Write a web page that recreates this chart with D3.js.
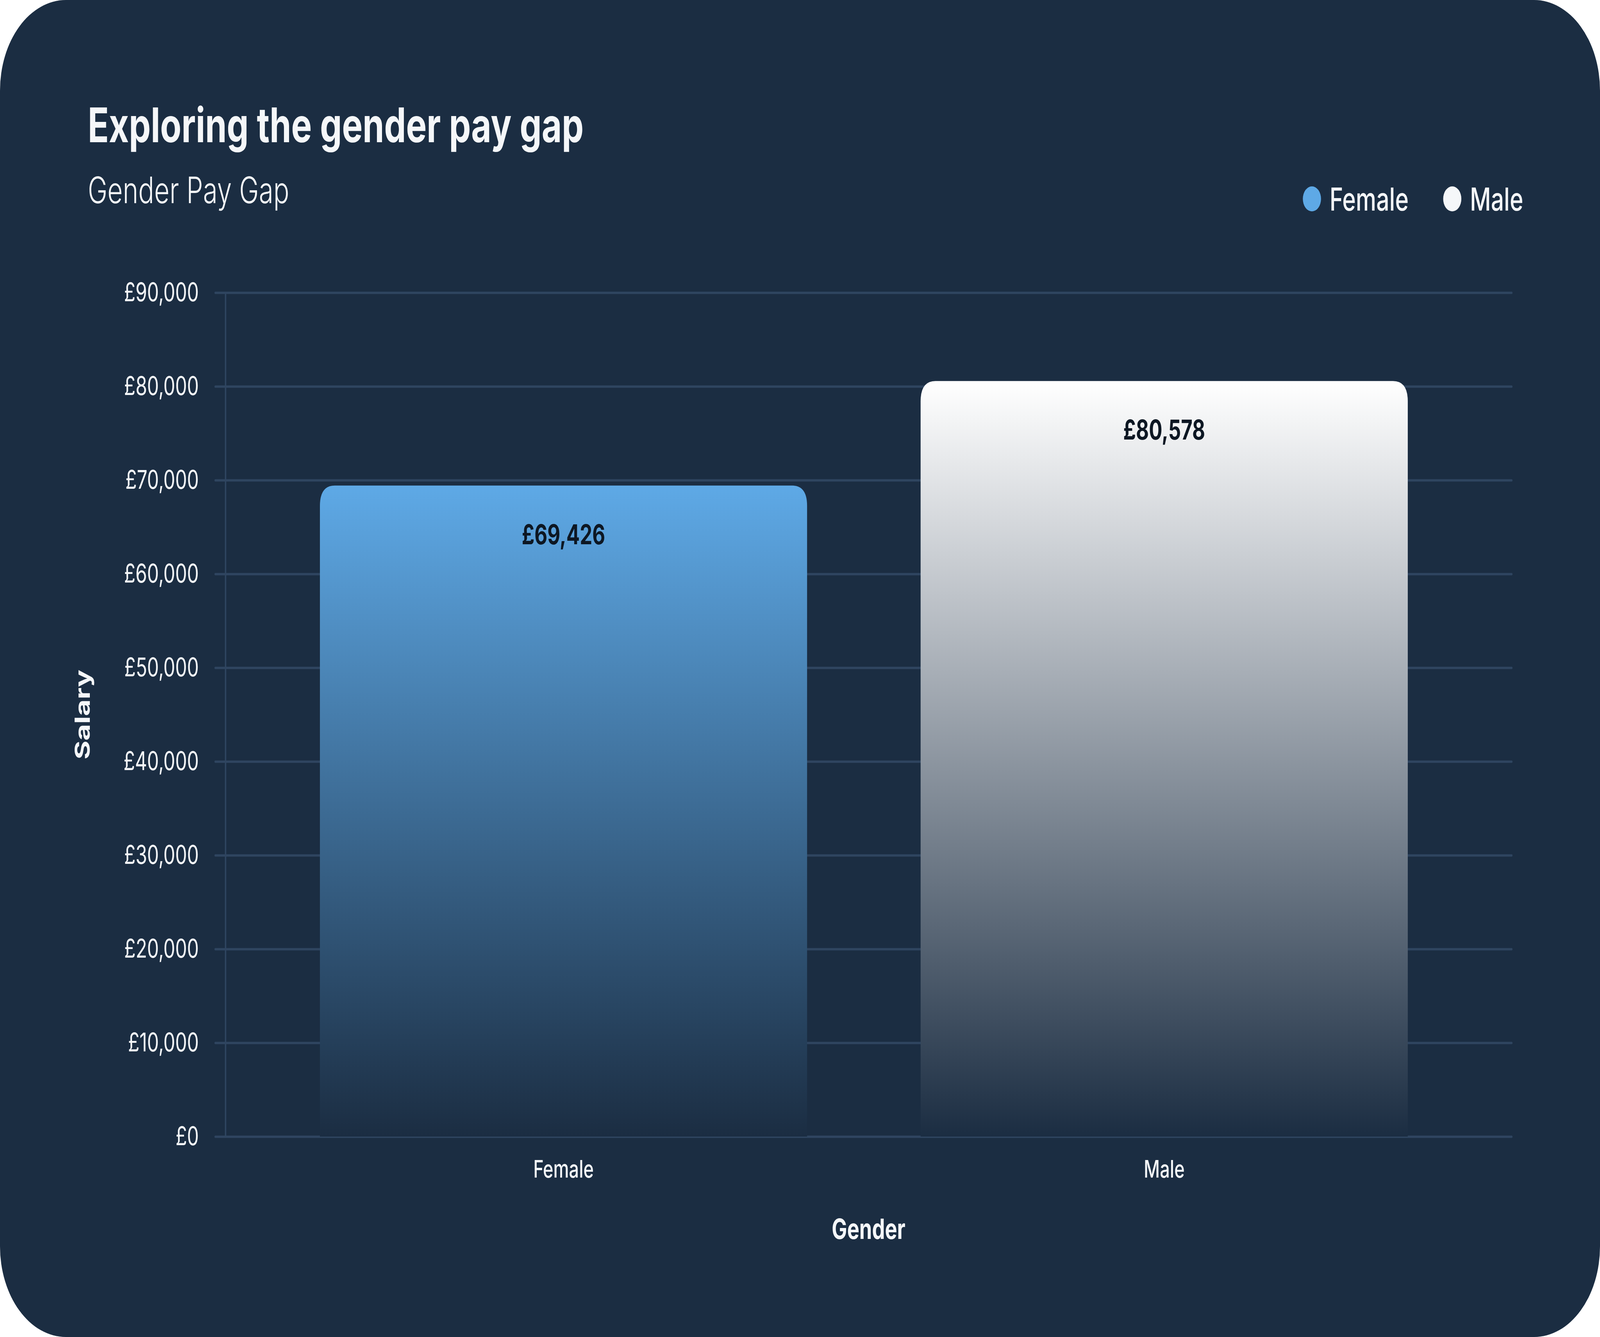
<!DOCTYPE html>
<html>
<head>
<meta charset="utf-8">
<script src="https://cdn.jsdelivr.net/npm/d3@7"></script>
<style>
  html, body { margin: 0; padding: 0; background: #ffffff; overflow: hidden; }
  #chart svg { display: block; width: 100vw; height: 100vh; }
  svg text { font-family: Inter, Lato, sans-serif; }
</style>
</head>
<body>
<div id="chart"></div>
<script>
const categories = ['Female', 'Male'];
const salaries = [69426, 80578];
const barColors = ['#5ea9e6', '#ffffff'];
const yTicks = [0, 10000, 20000, 30000, 40000, 50000, 60000, 70000, 80000, 90000];

const width = 5632;
const height = 3422;
const margin = {top: 749, right: 311, bottom: 513, left: 794};
const bg = '#1b2d42';
const gridColor = '#2f4560';
const textColor = '#f5f7f9';

// window may be narrower than the chart, so the chart is fitted to it
let svg = d3.select('#chart')
    .append('svg')
    .attr('viewBox', `0 0 ${width} ${height}`)
    .attr('preserveAspectRatio', 'none');

svg.append('rect')
    .attr('width', width)
    .attr('height', height)
    .attr('rx', 232)
    .attr('ry', 232)
    .style('fill', bg);

let defs = svg.append('defs');
categories.forEach(function(c, i) {
    let grad = defs.append('linearGradient')
        .attr('id', 'grad' + i)
        .attr('x1', 0).attr('y1', 0)
        .attr('x2', 0).attr('y2', 1);
    grad.append('stop').attr('offset', '0%').attr('stop-color', barColors[i]);
    grad.append('stop').attr('offset', '100%').attr('stop-color', bg);
});

// titles
svg.append('text')
    .attr('x', 309).attr('y', 364)
    .style('font-size', '122px')
    .style('font-weight', 700)
    .style('fill', textColor)
    .text('Exploring the gender pay gap');

svg.append('text')
    .attr('x', 309).attr('y', 520)
    .style('font-size', '93px')
    .style('font-weight', 300)
    .style('fill', textColor)
    .text('Gender Pay Gap');

let x = d3.scaleBand()
    .domain(categories)
    .range([margin.left, width - margin.right])
    .paddingInner(0.189)
    .paddingOuter(0.165)
    .align(0.476);

let y = d3.scaleLinear()
    .domain([0, 90000])
    .range([height - margin.bottom, margin.top]);

// grid + y axis
let yAxis = svg.append('g')
    .attr('transform', `translate(${margin.left}, 0)`)
    .call(d3.axisLeft(y)
        .tickValues(yTicks)
        .tickSize(-(width - margin.left - margin.right))
        .tickPadding(94)
        .tickFormat(d => '£' + d3.format(',')(d)));
yAxis.select('.domain').remove();
yAxis.selectAll('.tick line')
    .attr('x1', -36)
    .style('stroke', gridColor)
    .style('stroke-width', 6)
    .style('stroke-linecap', 'round');
yAxis.selectAll('.tick text')
    .style('fill', textColor)
    .style('font-size', '66px')
    .style('font-weight', 400);

svg.append('line')
    .attr('x1', margin.left).attr('x2', margin.left)
    .attr('y1', y(90000)).attr('y2', y(0))
    .style('stroke', gridColor)
    .style('stroke-width', 5);

// bars with rounded tops
const r = 52;
function barPath(d, i) {
    let x0 = x(categories[i]), x1 = x0 + x.bandwidth();
    let y0 = y(d), y1 = y(0);
    return `M${x0},${y1} L${x0},${y0 + r} Q${x0},${y0} ${x0 + r},${y0} ` +
        `L${x1 - r},${y0} Q${x1},${y0} ${x1},${y0 + r} L${x1},${y1} Z`;
}

svg.selectAll('.bar').data(salaries)
    .enter().append('path')
    .attr('class', 'bar')
    .attr('d', barPath)
    .style('fill', (d, i) => `url(#grad${i})`);

svg.selectAll('.valueLabel').data(salaries)
    .enter().append('text')
    .attr('class', 'valueLabel')
    .attr('x', (d, i) => x(categories[i]) + x.bandwidth() / 2)
    .attr('y', d => y(d) + 150)
    .style('text-anchor', 'middle')
    .style('font-size', '70px')
    .style('font-weight', 700)
    .style('fill', '#0d1723')
    .text(d => '£' + d3.format(',')(d));

// x axis labels
svg.selectAll('.xLabel').data(categories)
    .enter().append('text')
    .attr('class', 'xLabel')
    .attr('x', d => x(d) + x.bandwidth() / 2)
    .attr('y', 3014)
    .style('text-anchor', 'middle')
    .style('font-size', '62px')
    .style('font-weight', 500)
    .style('fill', textColor)
    .text(d => d);

svg.append('text')
    .attr('x', (margin.left + width - margin.right) / 2)
    .attr('y', 3171)
    .style('text-anchor', 'middle')
    .style('font-size', '72px')
    .style('font-weight', 700)
    .style('fill', textColor)
    .text('Gender');

svg.append('text')
    .attr('transform', `translate(316, ${(y(0) + y(90000)) / 2}) rotate(-90)`)
    .style('text-anchor', 'middle')
    .style('font-size', '74px')
    .style('font-weight', 700)
    .style('fill', textColor)
    .text('Salary');

// legend
let legend = svg.append('g');
const legendX = [4618, 5112];
categories.forEach(function(c, i) {
    legend.append('circle')
        .attr('cx', legendX[i]).attr('cy', 509)
        .attr('r', 32)
        .style('fill', barColors[i] === '#ffffff' ? '#f5f7f9' : barColors[i]);
    legend.append('text')
        .attr('x', legendX[i] + 62).attr('y', 539)
        .style('font-size', '81px')
        .style('font-weight', 500)
        .style('fill', textColor)
        .text(c);
});
</script>
</body>
</html>
